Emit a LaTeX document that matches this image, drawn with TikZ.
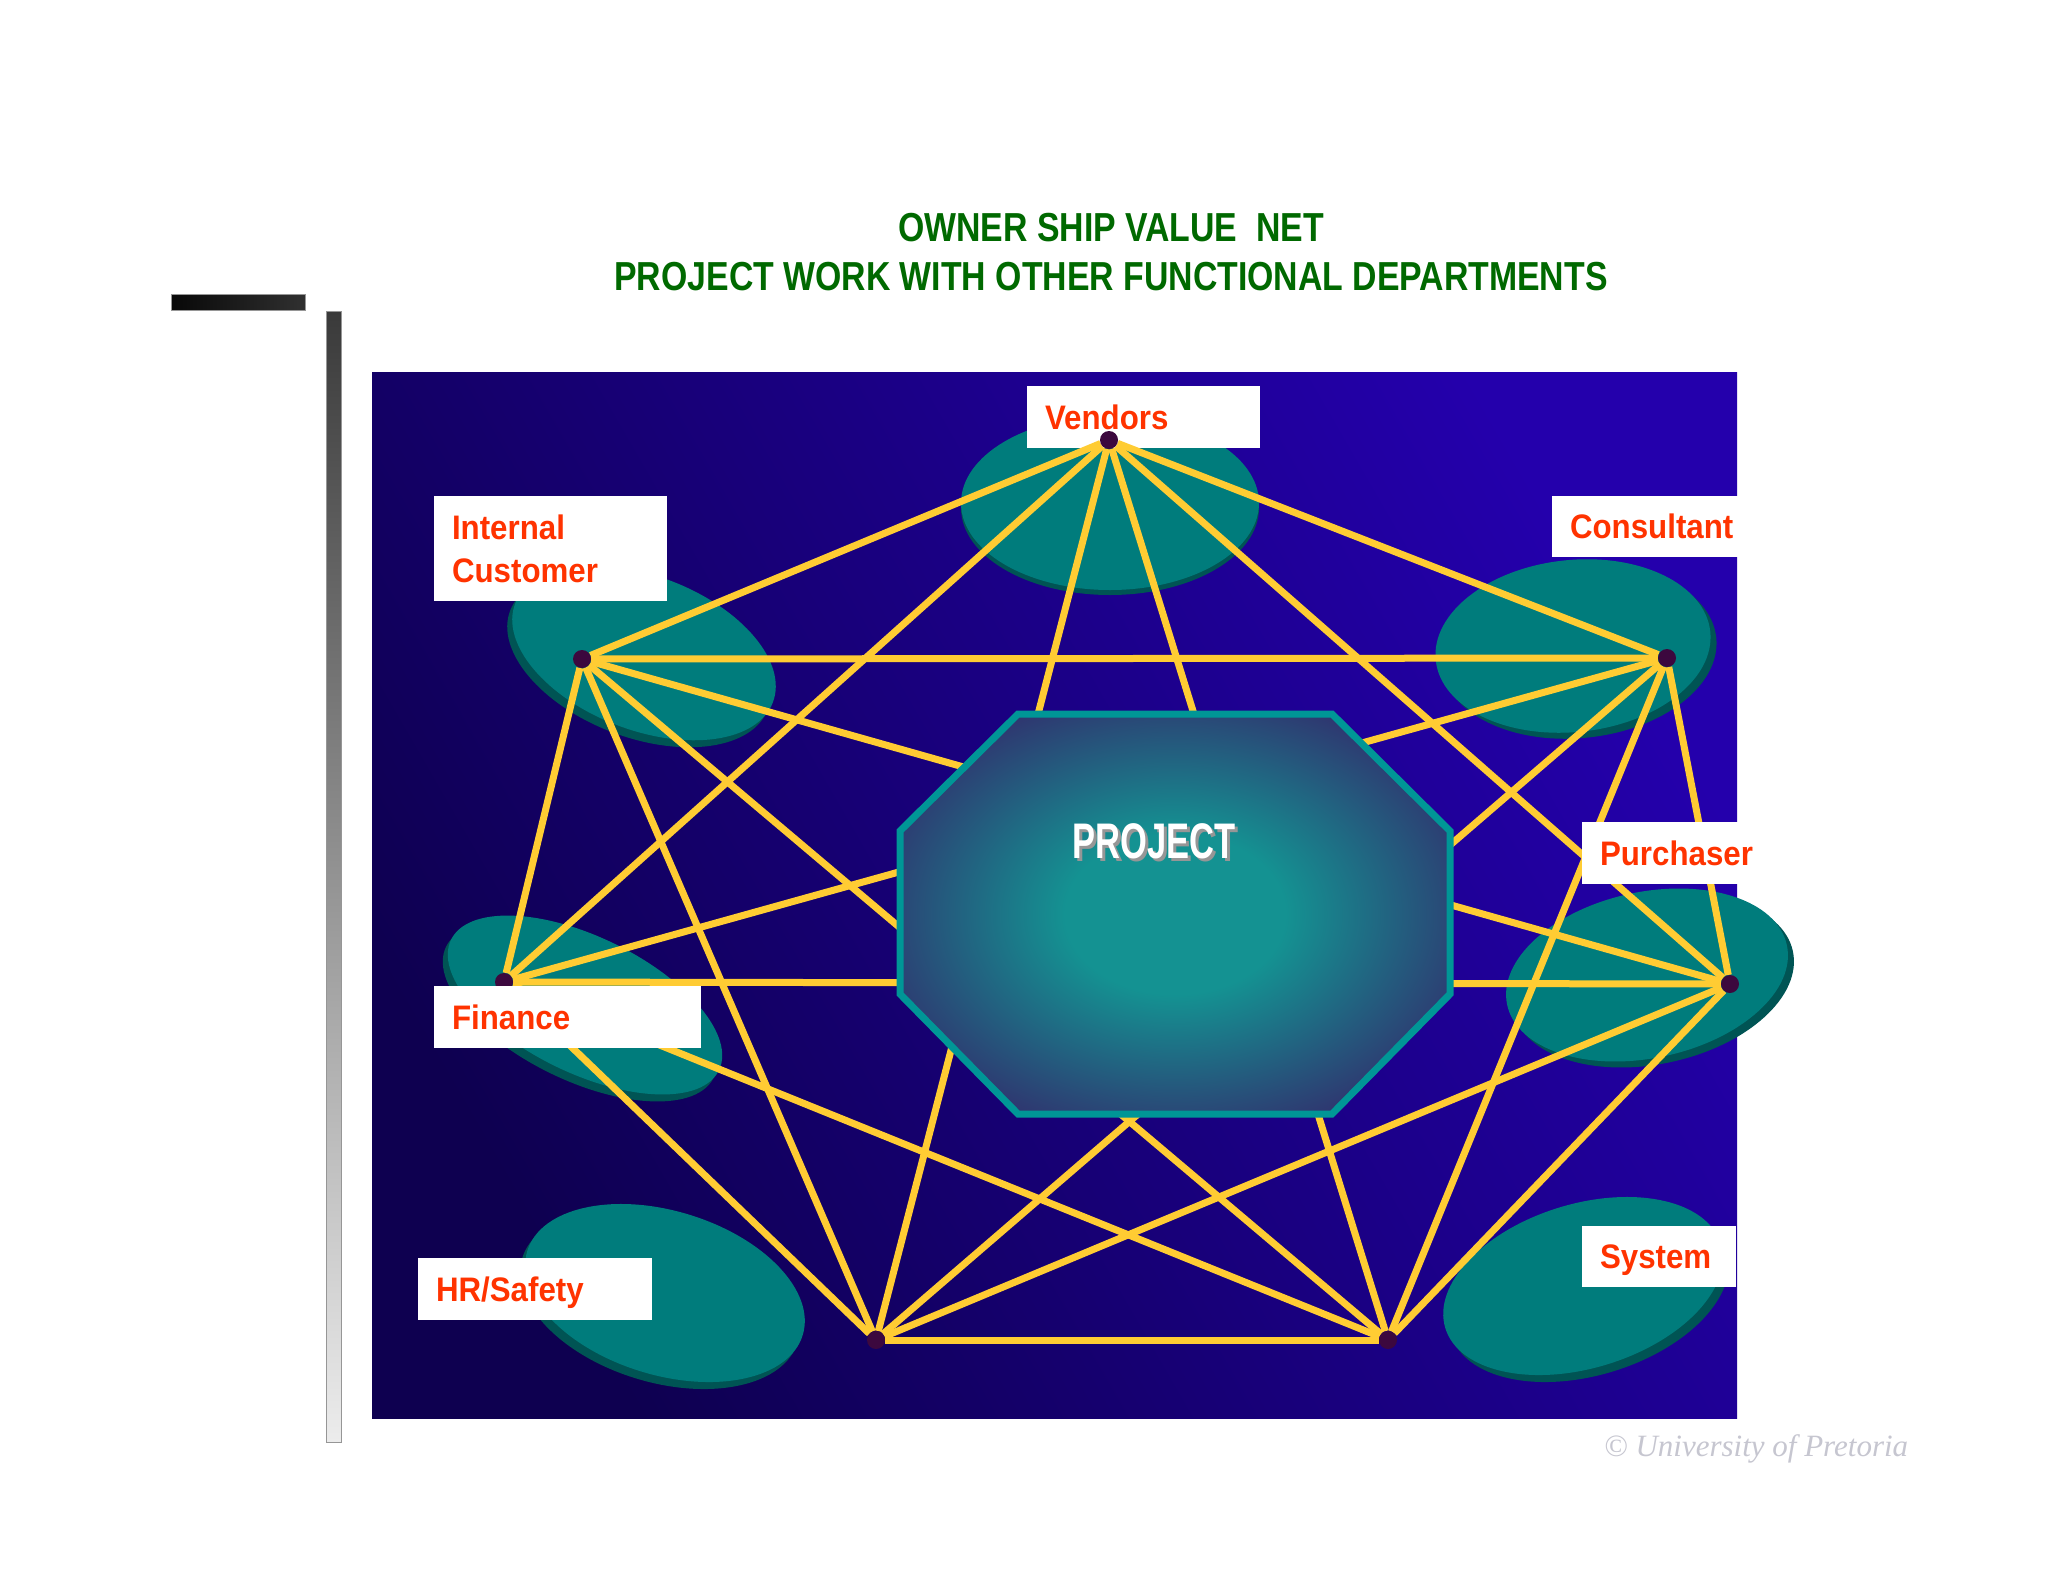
\documentclass[tikz,border=0pt]{standalone}
\usepackage{fontspec}
\setmainfont{Liberation Sans}
\newfontfamily\labelfont[FakeStretch=0.92]{Liberation Sans}
\newfontfamily\titlefont[FakeStretch=0.835]{Liberation Sans}
\newfontfamily\projfont[FakeStretch=0.69]{Liberation Sans}
\newfontfamily\copyfont{Liberation Serif}
\usetikzlibrary{calc}

\definecolor{lblred}{RGB}{255,51,0}
\definecolor{titlegreen}{RGB}{0,105,0}
\definecolor{netgold}{RGB}{255,204,51}
\definecolor{octteal}{RGB}{0,150,150}
\definecolor{discmain}{RGB}{0,124,124}
\definecolor{discdark}{RGB}{0,84,84}
\definecolor{dotcol}{RGB}{60,8,62}
\definecolor{navyL}{RGB}{14,0,80}
\definecolor{navyR}{RGB}{36,0,172}
\definecolor{projin}{RGB}{20,146,146}
\definecolor{projout}{RGB}{56,22,100}
\definecolor{copygray}{RGB}{198,198,208}
\definecolor{hbarL}{RGB}{8,8,8}
\definecolor{hbarR}{RGB}{48,48,48}
\definecolor{vbarT}{RGB}{58,58,58}
\definecolor{vbarB}{RGB}{236,236,236}
\definecolor{barEdge}{RGB}{150,150,150}
\definecolor{shadowgray}{RGB}{150,150,150}

\pgfdeclarelayer{bglayer}
\pgfdeclarelayer{linelayer}
\pgfdeclarelayer{frontlayer}
\pgfsetlayers{bglayer,linelayer,main,frontlayer}

\pgfdeclareradialshading{projshade}{\pgfpoint{0bp}{0bp}}{color(0bp)=(projin); color(10bp)=(projin); color(35bp)=(projout); color(75bp)=(projout)}

% disc: centre x, centre y, a, b, rotation, rim x, rim y
\newcommand\mydisc[7]{%
  \fill[discdark, shift={(#6,#7)}, rotate=#5] (0,0) ellipse [x radius=#3, y radius=#4];
  \fill[discmain, shift={(#1,#2)}, rotate=#5] (0,0) ellipse [x radius=#3, y radius=#4];
}

\begin{document}
\begin{tikzpicture}[x=1pt,y=-1pt,
  lbl/.style={fill=white, inner xsep=18pt, inner ysep=0pt, align=left, text=lblred,
    font=\labelfont\bfseries\fontsize{34}{43}\selectfont,
    text height=25pt, text depth=1pt, anchor=center},
  dotnode/.style={circle, fill=dotcol, inner sep=0pt, minimum size=18pt},
  netline/.style={draw=netgold, line width=7pt},
  titletext/.style={text=titlegreen, anchor=base, font=\titlefont\bfseries\fontsize{40.5}{49}\selectfont}
]
\useasboundingbox (0,0) rectangle (2048,1582);

\begin{pgfonlayer}{bglayer}
  \fill[white] (0,0) rectangle (2048,1582);
  \shade[left color=navyL, right color=navyR, shading angle=120] (372,372) rectangle (1737,1418);
  \mydisc{1110}{503}{149}{87}{0}{1110}{508}
  \mydisc{644}{653}{138}{77}{-21}{639}{660}
  \mydisc{1573}{646}{138}{86}{6}{1579}{652}
  \mydisc{1647}{975}{143}{83}{12}{1653}{981}
  \mydisc{585}{1005}{149}{68}{-26}{580}{1012}
  \mydisc{665}{1293}{144}{82}{-17}{660}{1300}
  \mydisc{1583}{1286}{144}{82}{17}{1589}{1293}
  \node[lbl, text width=197pt, minimum height=62pt] (vendors) at (1143.5,417) {Vendors};
\end{pgfonlayer}

% decorative bars
\shade[left color=hbarL, right color=hbarR, draw=barEdge, line width=1pt] (171,294) rectangle (305,310);
\shade[top color=vbarT, bottom color=vbarB, draw=barEdge, line width=1pt] (326,311) rectangle (341,1442);

% title
\node[titletext] (title1) at (1111,241) {OWNER SHIP VALUE\ \ NET};
\node[titletext] (title2) at (1111,290) {PROJECT WORK WITH OTHER FUNCTIONAL DEPARTMENTS};

% network vertices
\node[dotnode] (V)  at (1109,440) {};
\node[dotnode] (IC) at (582,659) {};
\node[dotnode] (C)  at (1667,658) {};
\node[dotnode] (F)  at (504,982) {};
\node[dotnode] (P)  at (1730,984) {};
\node[dotnode] (BL) at (876,1340) {};
\node[dotnode] (BR) at (1388,1340) {};

\begin{pgfonlayer}{linelayer}
  \foreach \a/\b in {V/IC, V/C, V/F, V/P, V/BL, V/BR, IC/C, IC/F, IC/P, IC/BL, IC/BR,
                     C/F, C/P, C/BL, C/BR, F/P, F/BL, F/BR, P/BL, P/BR, BL/BR}
    \draw[netline] (\a) -- (\b);
\end{pgfonlayer}

% project octagon
\shade[shading=projshade] (1018,714) -- (1332,714) -- (1450,831) -- (1450,994) -- (1332,1114) -- (1018,1114) -- (900,994) -- (900,831) -- cycle;
\draw[octteal, line width=7pt, line join=miter] (1018,714) -- (1332,714) -- (1450,831) -- (1450,994) -- (1332,1114) -- (1018,1114) -- (900,994) -- (900,831) -- cycle;
\node[anchor=base, text=shadowgray, font=\projfont\bfseries\fontsize{50}{60}\selectfont] (projshadow) at (1157,861) {PROJECT};
\node[anchor=base, text=white, font=\projfont\bfseries\fontsize{50}{60}\selectfont] (project) at (1154,858) {PROJECT};

\begin{pgfonlayer}{frontlayer}
  \node[lbl, text width=197pt, minimum height=105pt, text depth=44pt] (internal) at (550.5,548.5) {Internal\\Customer};
  \node[lbl, text width=172pt, minimum height=61pt] (consultant) at (1656,526.5) {Consultant};
  \node[lbl, text width=157pt, minimum height=62pt] (purchaser) at (1678.5,853) {Purchaser};
  \node[lbl, text width=231pt, minimum height=62pt] (finance) at (567.5,1017) {Finance};
  \node[lbl, text width=198pt, minimum height=62pt] (hrsafety) at (535,1289) {HR/Safety};
  \node[lbl, text width=118pt, minimum height=61pt] (system) at (1659,1256.5) {System};
\end{pgfonlayer}

\node[anchor=base west, inner sep=0pt, text=copygray, font=\copyfont\itshape\fontsize{31}{36}\selectfont] (copyright) at (1604,1456) {© University of Pretoria};
\end{tikzpicture}
\end{document}
